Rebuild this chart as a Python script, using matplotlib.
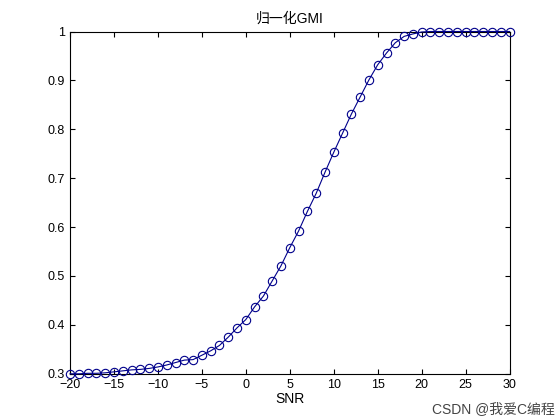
import numpy as np
import matplotlib
matplotlib.use("Agg")
import matplotlib.pyplot as plt

plt.rcParams['font.family'] = ['Liberation Sans', 'Noto Sans CJK SC', 'DejaVu Sans']

snr = list(range(-20, 31))
gmi = [0.300, 0.300, 0.301, 0.301, 0.302, 0.304, 0.306, 0.308, 0.309, 0.311,
       0.314, 0.318, 0.323, 0.328, 0.329, 0.338, 0.347, 0.358, 0.375, 0.394,
       0.411, 0.437, 0.459, 0.490, 0.521, 0.558, 0.592, 0.632, 0.669, 0.712,
       0.753, 0.792, 0.831, 0.866, 0.901, 0.932, 0.956, 0.977, 0.990, 0.995,
       0.999, 1.0, 1.0, 1.0, 1.0, 1.0, 1.0, 1.0, 1.0, 1.0, 1.0]

fig = plt.figure(figsize=(5.6, 4.2), dpi=100)
ax = fig.add_axes([0.125, 0.11, 0.785, 0.815])
ax.plot(snr, gmi, '-o', color='#00008b', lw=0.8, ms=6, mfc='none', mew=0.8,
        clip_on=False, zorder=3)
ax.set_xlim(-20, 30)
ax.set_ylim(0.3, 1)
ax.set_xticks(range(-20, 31, 5))
ax.set_yticks(np.arange(0.3, 1.01, 0.1))
ax.set_yticklabels(['0.3', '0.4', '0.5', '0.6', '0.7', '0.8', '0.9', '1'])
ax.tick_params(direction='in', top=True, right=True, labelsize=9)
ax.set_xlabel('SNR', fontsize=10, labelpad=1)
ax.set_title('归一化GMI', fontsize=10)
fig.text(0.99, 0.01, 'CSDN @我爱C编程', ha='right', va='bottom', fontsize=10, color='#444444')

fig.savefig('out.png')
